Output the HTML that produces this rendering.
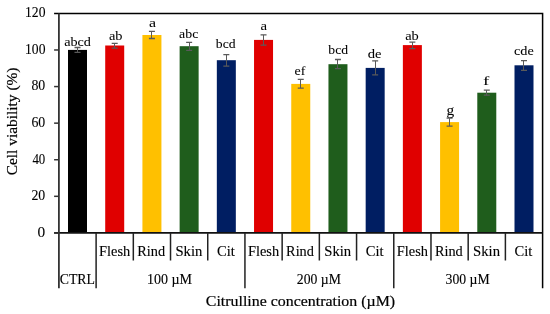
<!DOCTYPE html><html><head><meta charset="utf-8"><style>html,body{margin:0;padding:0;background:#fff;overflow:hidden;}svg{display:block;}text{font-family:"Liberation Serif",serif;fill:#000;stroke:#000;stroke-width:0.2px;}text.d{stroke-width:0.05px;}text.t{stroke-width:0.1px;}text.c{stroke-width:0.12px;}</style></head><body>
<svg width="550" height="314" viewBox="0 0 550 314">
<rect x="68.00" y="49.90" width="19.00" height="183.00" fill="#000000"/>
<rect x="105.21" y="45.50" width="19.00" height="187.40" fill="#E00000"/>
<rect x="142.42" y="35.00" width="19.00" height="197.90" fill="#FFC000"/>
<rect x="179.63" y="46.20" width="19.00" height="186.70" fill="#1F5D1C"/>
<rect x="216.83" y="60.20" width="19.00" height="172.70" fill="#001E62"/>
<rect x="254.04" y="39.90" width="19.00" height="193.00" fill="#E00000"/>
<rect x="291.25" y="83.90" width="19.00" height="149.00" fill="#FFC000"/>
<rect x="328.46" y="64.20" width="19.00" height="168.70" fill="#1F5D1C"/>
<rect x="365.67" y="67.90" width="19.00" height="165.00" fill="#001E62"/>
<rect x="402.87" y="45.10" width="19.00" height="187.80" fill="#E00000"/>
<rect x="440.08" y="122.10" width="19.00" height="110.80" fill="#FFC000"/>
<rect x="477.29" y="92.70" width="19.00" height="140.20" fill="#1F5D1C"/>
<rect x="514.50" y="65.30" width="19.00" height="167.60" fill="#001E62"/>
<path d="M77.50 47.50V52.30" stroke="#5a5a5a" stroke-width="1.0" fill="none"/>
<path d="M74.50 47.50H80.50M74.50 52.30H80.50" stroke="#5a5a5a" stroke-width="1.3" fill="none"/>
<path d="M114.50 43.40V48.20" stroke="#5a5a5a" stroke-width="1.0" fill="none"/>
<path d="M111.71 43.40H117.71M111.71 48.20H117.71" stroke="#5a5a5a" stroke-width="1.3" fill="none"/>
<path d="M151.50 31.30V38.50" stroke="#5a5a5a" stroke-width="1.0" fill="none"/>
<path d="M148.92 31.30H154.92M148.92 38.50H154.92" stroke="#5a5a5a" stroke-width="1.3" fill="none"/>
<path d="M189.50 42.40V50.30" stroke="#5a5a5a" stroke-width="1.0" fill="none"/>
<path d="M186.13 42.40H192.13M186.13 50.30H192.13" stroke="#5a5a5a" stroke-width="1.3" fill="none"/>
<path d="M226.50 54.60V66.10" stroke="#5a5a5a" stroke-width="1.0" fill="none"/>
<path d="M223.33 54.60H229.33M223.33 66.10H229.33" stroke="#5a5a5a" stroke-width="1.3" fill="none"/>
<path d="M263.50 34.90V45.20" stroke="#5a5a5a" stroke-width="1.0" fill="none"/>
<path d="M260.54 34.90H266.54M260.54 45.20H266.54" stroke="#5a5a5a" stroke-width="1.3" fill="none"/>
<path d="M300.50 79.40V88.10" stroke="#5a5a5a" stroke-width="1.0" fill="none"/>
<path d="M297.75 79.40H303.75M297.75 88.10H303.75" stroke="#5a5a5a" stroke-width="1.3" fill="none"/>
<path d="M337.50 59.50V68.60" stroke="#5a5a5a" stroke-width="1.0" fill="none"/>
<path d="M334.96 59.50H340.96M334.96 68.60H340.96" stroke="#5a5a5a" stroke-width="1.3" fill="none"/>
<path d="M375.50 60.80V74.90" stroke="#5a5a5a" stroke-width="1.0" fill="none"/>
<path d="M372.17 60.80H378.17M372.17 74.90H378.17" stroke="#5a5a5a" stroke-width="1.3" fill="none"/>
<path d="M412.50 42.10V48.60" stroke="#5a5a5a" stroke-width="1.0" fill="none"/>
<path d="M409.37 42.10H415.37M409.37 48.60H415.37" stroke="#5a5a5a" stroke-width="1.3" fill="none"/>
<path d="M449.50 118.20V126.10" stroke="#5a5a5a" stroke-width="1.0" fill="none"/>
<path d="M446.58 118.20H452.58M446.58 126.10H452.58" stroke="#5a5a5a" stroke-width="1.3" fill="none"/>
<path d="M486.50 90.20V95.20" stroke="#5a5a5a" stroke-width="1.0" fill="none"/>
<path d="M483.79 90.20H489.79M483.79 95.20H489.79" stroke="#5a5a5a" stroke-width="1.3" fill="none"/>
<path d="M523.50 60.60V70.30" stroke="#5a5a5a" stroke-width="1.0" fill="none"/>
<path d="M521.00 60.60H527.00M521.00 70.30H527.00" stroke="#5a5a5a" stroke-width="1.3" fill="none"/>
<g fill="none">
<path d="M54.1 13.40H542.60V288.3" stroke-width="1.5" stroke="#000"/>
<path d="M54.1 232.90H542.60" stroke-width="1.6" stroke="#111"/>
<path d="M58.90 13.40V288.3" stroke-width="1.8" stroke="#333"/>
<path d="M54.1 232.90H58.90" stroke-width="1.5" stroke="#333"/>
<path d="M54.1 196.32H58.90" stroke-width="1.5" stroke="#333"/>
<path d="M54.1 159.73H58.90" stroke-width="1.5" stroke="#333"/>
<path d="M54.1 123.15H58.90" stroke-width="1.5" stroke="#333"/>
<path d="M54.1 86.57H58.90" stroke-width="1.5" stroke="#333"/>
<path d="M54.1 49.98H58.90" stroke-width="1.5" stroke="#333"/>
<path d="M96.11 232.90V288.30" stroke-width="1.5" stroke="#222"/>
<path d="M133.32 232.90V260.50" stroke-width="1.5" stroke="#222"/>
<path d="M170.52 232.90V260.50" stroke-width="1.5" stroke="#222"/>
<path d="M207.73 232.90V260.50" stroke-width="1.5" stroke="#222"/>
<path d="M244.94 232.90V288.30" stroke-width="1.5" stroke="#222"/>
<path d="M282.15 232.90V260.50" stroke-width="1.5" stroke="#222"/>
<path d="M319.35 232.90V260.50" stroke-width="1.5" stroke="#222"/>
<path d="M356.56 232.90V260.50" stroke-width="1.5" stroke="#222"/>
<path d="M393.77 232.90V288.30" stroke-width="1.5" stroke="#222"/>
<path d="M430.98 232.90V260.50" stroke-width="1.5" stroke="#222"/>
<path d="M468.18 232.90V260.50" stroke-width="1.5" stroke="#222"/>
<path d="M505.39 232.90V260.50" stroke-width="1.5" stroke="#222"/>
</g>
<text class="t" x="37.43" y="236.70" font-size="14.4" textLength="7.68" lengthAdjust="spacingAndGlyphs">0</text>
<text class="t" x="31.44" y="200.12" font-size="14.4" textLength="13.84" lengthAdjust="spacingAndGlyphs">20</text>
<text class="t" x="32.40" y="163.53" font-size="14.4" textLength="12.85" lengthAdjust="spacingAndGlyphs">40</text>
<text class="t" x="31.44" y="126.95" font-size="14.4" textLength="13.84" lengthAdjust="spacingAndGlyphs">60</text>
<text class="t" x="31.44" y="90.37" font-size="14.4" textLength="13.84" lengthAdjust="spacingAndGlyphs">80</text>
<text class="t" x="25.01" y="53.78" font-size="14.4" textLength="20.46" lengthAdjust="spacingAndGlyphs">100</text>
<text class="t" x="25.01" y="17.20" font-size="14.4" textLength="20.46" lengthAdjust="spacingAndGlyphs">120</text>
<text class="d" x="64.20" y="45.70" font-size="13.2" textLength="26.77" lengthAdjust="spacingAndGlyphs">abcd</text>
<text class="d" x="108.90" y="39.60" font-size="13.2" textLength="13.59" lengthAdjust="spacingAndGlyphs">ab</text>
<text class="d" x="148.90" y="26.80" font-size="13.2" textLength="7.03" lengthAdjust="spacingAndGlyphs">a</text>
<text class="d" x="179.10" y="37.80" font-size="13.2" textLength="19.23" lengthAdjust="spacingAndGlyphs">abc</text>
<text class="d" x="215.80" y="47.80" font-size="13.2" textLength="19.75" lengthAdjust="spacingAndGlyphs">bcd</text>
<text class="d" x="260.60" y="29.60" font-size="13.2" textLength="6.56" lengthAdjust="spacingAndGlyphs">a</text>
<text class="d" x="294.50" y="74.70" font-size="13.2" textLength="10.87" lengthAdjust="spacingAndGlyphs">ef</text>
<text class="d" x="328.30" y="54.40" font-size="13.2" textLength="19.75" lengthAdjust="spacingAndGlyphs">bcd</text>
<text class="d" x="367.70" y="57.50" font-size="13.2" textLength="13.80" lengthAdjust="spacingAndGlyphs">de</text>
<text class="d" x="405.20" y="39.60" font-size="13.2" textLength="13.59" lengthAdjust="spacingAndGlyphs">ab</text>
<text class="d" x="446.42" y="115.30" font-size="14.2" textLength="7.68" lengthAdjust="spacingAndGlyphs">g</text>
<text class="d" x="482.90" y="84.90" font-size="12.6" textLength="6.30" lengthAdjust="spacingAndGlyphs">f</text>
<text class="d" x="513.90" y="55.40" font-size="13.2" textLength="19.84" lengthAdjust="spacingAndGlyphs">cde</text>
<text class="c" x="99.09" y="255.70" font-size="14.2" textLength="31.17" lengthAdjust="spacingAndGlyphs">Flesh</text>
<text class="c" x="137.29" y="255.70" font-size="14.2" textLength="27.81" lengthAdjust="spacingAndGlyphs">Rind</text>
<text class="c" x="175.47" y="255.70" font-size="14.2" textLength="26.90" lengthAdjust="spacingAndGlyphs">Skin</text>
<text class="c" x="216.97" y="255.70" font-size="14.2" textLength="17.79" lengthAdjust="spacingAndGlyphs">Cit</text>
<text class="c" x="146.95" y="283.80" font-size="14.4" textLength="45.12" lengthAdjust="spacingAndGlyphs">100 µM</text>
<text class="c" x="247.92" y="255.70" font-size="14.2" textLength="31.17" lengthAdjust="spacingAndGlyphs">Flesh</text>
<text class="c" x="286.12" y="255.70" font-size="14.2" textLength="27.81" lengthAdjust="spacingAndGlyphs">Rind</text>
<text class="c" x="324.30" y="255.70" font-size="14.2" textLength="26.90" lengthAdjust="spacingAndGlyphs">Skin</text>
<text class="c" x="365.81" y="255.70" font-size="14.2" textLength="17.79" lengthAdjust="spacingAndGlyphs">Cit</text>
<text class="c" x="296.78" y="283.80" font-size="14.4" textLength="44.12" lengthAdjust="spacingAndGlyphs">200 µM</text>
<text class="c" x="396.75" y="255.70" font-size="14.2" textLength="31.17" lengthAdjust="spacingAndGlyphs">Flesh</text>
<text class="c" x="434.95" y="255.70" font-size="14.2" textLength="27.81" lengthAdjust="spacingAndGlyphs">Rind</text>
<text class="c" x="473.13" y="255.70" font-size="14.2" textLength="26.90" lengthAdjust="spacingAndGlyphs">Skin</text>
<text class="c" x="514.64" y="255.70" font-size="14.2" textLength="17.79" lengthAdjust="spacingAndGlyphs">Cit</text>
<text class="c" x="445.61" y="283.80" font-size="14.4" textLength="44.12" lengthAdjust="spacingAndGlyphs">300 µM</text>
<text class="c" x="59.74" y="283.60" font-size="14.4" textLength="35.20" lengthAdjust="spacingAndGlyphs">CTRL</text>
<text x="205.84" y="305.50" font-size="15.0" textLength="189.29" lengthAdjust="spacingAndGlyphs">Citrulline concentration (µM)</text>
<text transform="translate(16.60 175.27) rotate(-90)" x="0" y="0" font-size="14.4" textLength="107.74" lengthAdjust="spacingAndGlyphs">Cell viability (%)</text>
</svg></body></html>
